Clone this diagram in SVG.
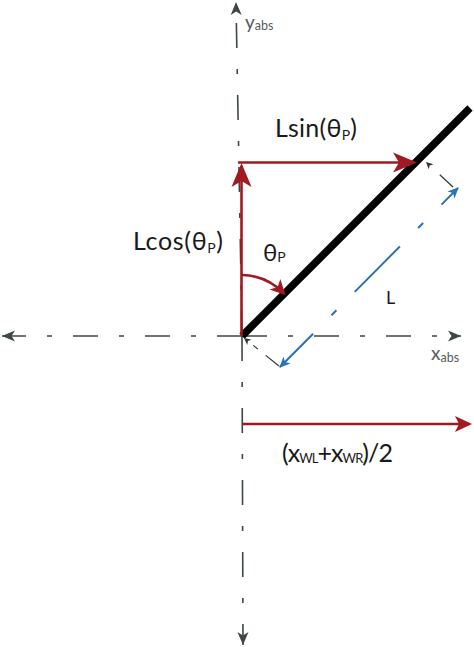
<svg xmlns="http://www.w3.org/2000/svg" width="474" height="647" viewBox="0 0 474 647">
<style>
.axis{stroke:#3e4747;stroke-width:1.6;fill:none;stroke-dasharray:25 21 5 21}
.red{stroke:#a01a22;stroke-width:2.6;fill:none}
.blue{stroke:#2a72b5;stroke-width:2;fill:none;stroke-dasharray:64 26 7 26;stroke-dashoffset:17}
.wit{stroke:#2f3636;stroke-width:1.2;fill:none}
.lbl{font-family:Lato,"Liberation Sans",sans-serif;fill:#1a1a1a}
.ax{font-family:Lato,"Liberation Sans",sans-serif;fill:#555c5c}
</style>
<defs>
<marker id="ahAxis" viewBox="-14 -6 15 12" refX="0" refY="0" markerWidth="15" markerHeight="12" markerUnits="userSpaceOnUse" orient="auto"><path d="M0,0 L-13,-5.5 L-9.5,0 L-13,5.5 Z" fill="#3e4747"/></marker>
<marker id="ahRed" viewBox="-24 -11 28 22" refX="0" refY="0" markerWidth="28" markerHeight="22" markerUnits="userSpaceOnUse" orient="auto"><path d="M3,0 L-21,-10 L-15,0 L-21,10 Z" fill="#a01a22"/></marker>
<marker id="ahRedS" viewBox="-18 -9 21 18" refX="0" refY="0" markerWidth="21" markerHeight="18" markerUnits="userSpaceOnUse" orient="auto"><path d="M3,0 L-14,-8 L-10,0 L-14,8 Z" fill="#a01a22"/></marker>
<marker id="ahArc" viewBox="-16 -9 19 18" refX="0" refY="0" markerWidth="19" markerHeight="18" markerUnits="userSpaceOnUse" orient="auto"><path d="M2,0 L-13,-7.5 L-9,0 L-13,7.5 Z" fill="#a01a22"/></marker>
<marker id="ahBlue" viewBox="-11 -6 13 12" refX="0" refY="0" markerWidth="13" markerHeight="12" markerUnits="userSpaceOnUse" orient="auto-start-reverse"><path d="M1,0 L-10,-5 L-7,0 L-10,5 Z" fill="#2a72b5"/></marker>
<marker id="ahWit" viewBox="-8 -4 9 8" refX="0" refY="0" markerWidth="9" markerHeight="8" markerUnits="userSpaceOnUse" orient="auto"><path d="M0,0 L-7,-3.5 L-5,0 L-7,3.5 Z" fill="#2f3636"/></marker>
</defs>

<g id="connectors">
  <g id="axes">
    <line class="axis" x1="242" y1="336" x2="236" y2="2" marker-end="url(#ahAxis)"/>
    <line class="axis" x1="242" y1="336" x2="243" y2="645" marker-end="url(#ahAxis)"/>
    <line class="axis" x1="242" y1="336" x2="2" y2="336" marker-end="url(#ahAxis)"/>
    <line class="axis" x1="242" y1="336" x2="461" y2="336" marker-end="url(#ahAxis)"/>
  </g>
  <g id="witness">
    <line class="wit" x1="279" y1="366" x2="244" y2="338" stroke-dasharray="17 10 6 40" marker-end="url(#ahWit)"/>
    <line class="wit" x1="453" y1="187" x2="426" y2="162" stroke-dasharray="18 40" marker-end="url(#ahWit)"/>
  </g>
  <line id="dimL" class="blue" x1="280" y1="367" x2="458" y2="188" marker-start="url(#ahBlue)" marker-end="url(#ahBlue)"/>
  <line id="bar" x1="242" y1="336" x2="470" y2="108" stroke="#000" stroke-width="7.5"/>
  <line id="cosArrow" class="red" x1="241.5" y1="336" x2="241.5" y2="166" marker-end="url(#ahRed)"/>
  <line id="sinArrow" class="red" x1="238" y1="162.5" x2="414" y2="162.5" marker-end="url(#ahRed)"/>
  <path id="thetaArc" class="red" d="M242,275 A61,61 0 0 1 284,293.5" marker-end="url(#ahArc)"/>
  <line id="xArrow" class="red" x1="242" y1="424" x2="469" y2="424" marker-end="url(#ahRedS)"/>
</g>

<g id="labels">
  <g id="yabs"><text class="ax" x="245" y="29" font-size="19">y<tspan font-size="12.5" dy="1">abs</tspan></text></g>
  <g id="xabs"><text class="ax" x="431" y="360" font-size="19">x<tspan font-size="12.5" dy="2">abs</tspan></text></g>
  <g id="lsin"><text class="lbl" x="275" y="137" font-size="25" textLength="82">Lsin(θ<tspan font-size="14" dy="3">P</tspan><tspan dy="-3">)</tspan></text></g>
  <g id="lcos"><text class="lbl" x="133" y="250" font-size="25" textLength="90">Lcos(θ<tspan font-size="14" dy="3">P</tspan><tspan dy="-3">)</tspan></text></g>
  <g id="theta"><text class="lbl" x="263" y="261" font-size="24">θ<tspan font-size="14" dy="1">P</tspan></text></g>
  <g id="Llabel"><text class="lbl" x="386" y="304" font-size="18">L</text></g>
  <g id="xsum"><text class="lbl" x="282" y="462" font-size="25" textLength="111">(x<tspan font-size="13" dy="1">WL</tspan><tspan dy="-1">+x</tspan><tspan font-size="13" dy="1">WR</tspan><tspan dy="-1">)/2</tspan></text></g>
</g>
</svg>
